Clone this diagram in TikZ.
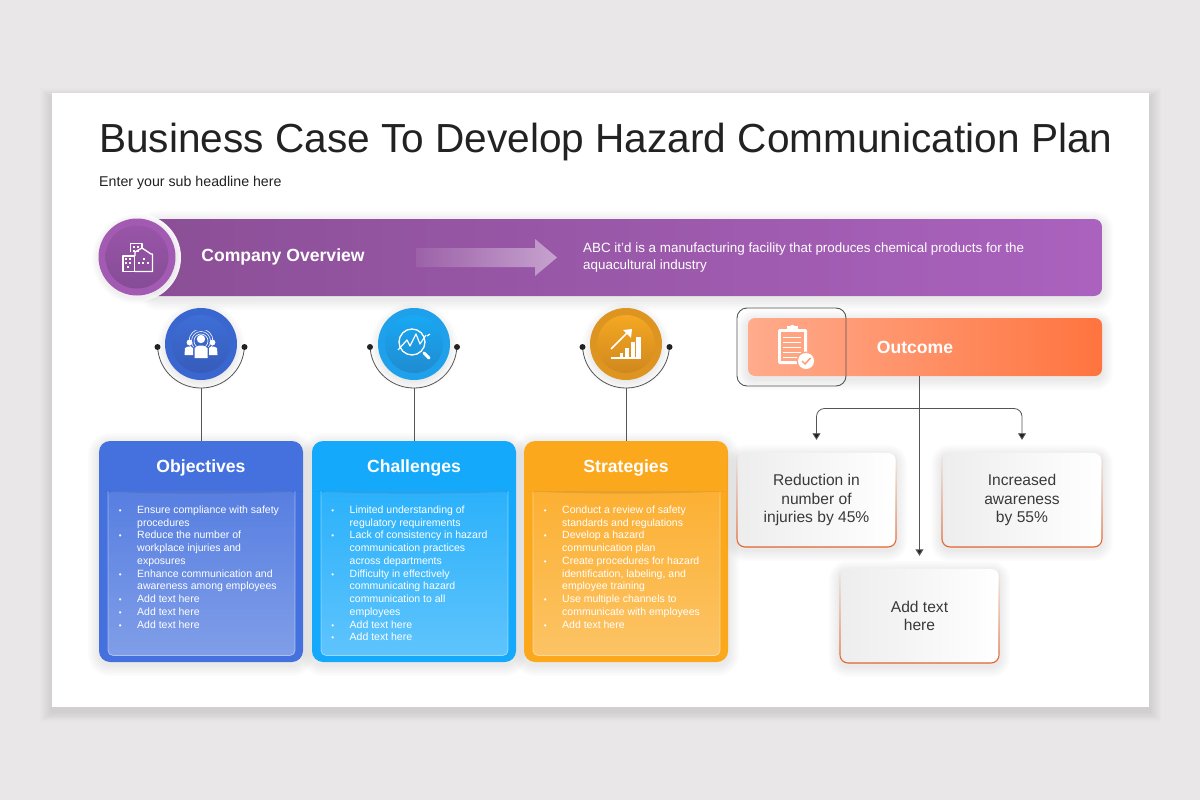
\documentclass[tikz,border=0pt]{standalone}
\usepackage{fontspec}
\setmainfont{Liberation Sans}
\usetikzlibrary{arrows.meta,fadings,calc}
\definecolor{bg}{HTML}{E9E7E8}
\definecolor{ink}{HTML}{222222}
\definecolor{txt}{HTML}{3A3A3A}
\definecolor{wire}{HTML}{555555}
\definecolor{blueA}{HTML}{4571DE}
\definecolor{skyA}{HTML}{14A9FB}
\definecolor{ambA}{HTML}{FCA81D}
\definecolor{orgL}{HTML}{FFAB8C}
\definecolor{orgR}{HTML}{FF743F}
\definecolor{orgE}{HTML}{E2622B}
\definecolor{purL}{HTML}{8B4F96}
\definecolor{purR}{HTML}{AA62BE}
\definecolor{purO}{HTML}{A25AB2}
\definecolor{purT}{HTML}{9955A8}
\definecolor{purB}{HTML}{864C96}
\definecolor{h1O}{HTML}{3A67CF}
\definecolor{h1T}{HTML}{3E6ED6}
\definecolor{h1B}{HTML}{365CBA}
\definecolor{h2O}{HTML}{1EA0EA}
\definecolor{h2T}{HTML}{18A8F4}
\definecolor{h2B}{HTML}{208CD0}
\definecolor{h3O}{HTML}{DE9420}
\definecolor{h3T}{HTML}{F4A822}
\definecolor{h3B}{HTML}{D0881E}
\definecolor{h1M}{HTML}{3A64C8}
\definecolor{clipbg}{HTML}{FFA582}
\definecolor{clipck}{HTML}{FF966E}
\tikzfading[name=panelfade,top color=transparent!90,bottom color=transparent!68]
\tikzfading[name=arrowfade,left color=transparent!92,right color=transparent!55]
\tikzfading[name=edgefade,top color=transparent!100,bottom color=transparent!0]
\newcommand{\softshadow}[5]{%
  \foreach \g in {1,...,7}{%
    \fill[black,opacity=.012,rounded corners=#5+\g*1.6pt]
      (#1-\g*1.6,#2-\g*1.6+3) rectangle (#3+\g*1.6,#4+\g*1.6+3);}}
\newcommand{\bl}[1]{\makebox[0pt][r]{\fontsize{8}{8}\selectfont •\hspace{15.5pt}}#1}
\tikzset{
  x=1pt,y=-1pt,
  title/.style={inner sep=0,anchor=west,text=ink,font=\fontsize{40.6}{44}\selectfont},
  subhead/.style={inner sep=0,anchor=west,text=ink,font=\fontsize{14.2}{16}\selectfont},
  headw/.style={inner sep=0,text=white,font=\bfseries\fontsize{17.6}{20}\selectfont},
  bodyw/.style={inner sep=0,anchor=north west,text=white,align=left,font=\fontsize{10.5}{12.75}\selectfont},
  ovw/.style={inner sep=0,anchor=west,text=white,align=left,font=\fontsize{13.4}{16.3}\selectfont},
  cardbox/.style={rectangle,rounded corners=11pt,minimum width=204pt,minimum height=221pt,inner sep=0},
  hub/.style={circle,minimum size=72pt,inner sep=0},
  hubin/.style={circle,minimum size=58pt,inner sep=0},
  dotn/.style={circle,fill=ink,minimum size=6pt,inner sep=0},
  wirel/.style={draw=wire,line width=.9pt},
  curvel/.style={draw=wire,line width=.8pt},
  arr/.style={draw=wire,line width=1pt,-{Triangle[length=6.5pt,width=8pt,fill=ink]}},
  resbox/.style={rectangle,rounded corners=8pt,minimum width=159pt,minimum height=94pt,inner sep=0,
     left color=black!7,right color=white,draw=none,align=center,text=txt,font=\fontsize{15.6}{18.4}\selectfont},
  ico/.style={draw=white,line width=1.3pt,line join=round},
}
\begin{document}
\begin{tikzpicture}
\useasboundingbox (0,0) rectangle (1200,800);
\fill[bg] (0,0) rectangle (1200,800);
% slide
\foreach \g in {1,...,8}{\fill[black,opacity=.012] (52-\g*1.5,93-\g*1.2+5) rectangle (1149+\g*1.5,707+\g*1.2+5);}
\fill[white] (52,93) rectangle (1149,707);
\node[title] (ttl) at (99,142) {Business Case To Develop Hazard Communication Plan};
\node[subhead] (sub) at (99,183) {Enter your sub headline here};
% banner
\softshadow{150}{219}{1102}{296}{8pt}
\node[rectangle,rounded corners=8pt,minimum width=952pt,minimum height=77pt,inner sep=0,
      left color=purL,right color=purR] (banner) at (626,257.5) {};
\fill[white,opacity=.97] (137,257.5) circle (44);
\foreach \g in {1,...,5}{\fill[black,opacity=.012] (137,259) circle (38.5+\g*1.3);}
\node[circle,minimum size=77pt,inner sep=0,fill=purO] (cohub) at (137,257) {};
\node[circle,minimum size=63pt,inner sep=0,top color=purT,bottom color=purB] (cohubin) at (137,257) {};
% building icon
\draw[ico] (130.5,252) -- (130.5,243.5) -- (142,243.5) -- (142,248);
\draw[ico] (123,256) -- (134.5,256) -- (134.5,271.5) -- (123,271.5) -- cycle;
\draw[ico] (135,256) -- (135,252) -- (142,248) -- (151,254) -- (152.5,254) -- (152.5,271.5) -- (135,271.5);
\foreach \p in {(134,247),(138,247),(134,251),(138,251),(126,259),(130,259),(126,263),(130,263),(128,267),(139,263),(144,259),(148,263),(143,263)}{\fill[white] \p ++(-1,-1) rectangle ++(2.2,2);}
\node[headw] (coname) at (283,257) {Company Overview};
\fill[white,path fading=arrowfade] (416,248) -- (535,248) -- (535,239) -- (557,257.5) -- (535,276) -- (535,267) -- (416,267) -- cycle;
\node[ovw] (covtxt) at (583,257.5) {ABC it'd is a manufacturing facility that produces chemical products for the\\aquacultural industry};
% hubs
\softshadow{168}{311}{234}{377}{33pt}
\softshadow{381}{311}{447}{377}{33pt}
\softshadow{593}{311}{659}{377}{33pt}
\node[hub,fill=h1O] (h1) at (201,344) {};
\node[hubin,top color=h1T,bottom color=h1B] (h1i) at (201,344) {};
\node[hub,fill=h2O] (h2) at (414,344) {};
\node[hubin,top color=h2T,bottom color=h2B] (h2i) at (414,344) {};
\node[hub,fill=h3O] (h3) at (626,344) {};
\node[hubin,top color=h3T,bottom color=h3B] (h3i) at (626,344) {};
% cradles
\node[dotn] (l1) at (157.5,347) {}; \node[dotn] (r1) at (244.5,347) {}; \coordinate (b1) at (201,388);
\node[dotn] (l2) at (370,347) {}; \node[dotn] (r2) at (457,347) {}; \coordinate (b2) at (414,388);
\node[dotn] (l3) at (582.5,347) {}; \node[dotn] (r3) at (669.5,347) {}; \coordinate (b3) at (626,388);
\foreach \n in {1,2,3}{
  \draw[curvel] (l\n) .. controls ($(l\n)+(3,25)$) and ($(b\n)+(-22,0)$) .. (b\n) .. controls ($(b\n)+(22,0)$) and ($(r\n)+(-3,25)$) .. (r\n);
}
% cards
\softshadow{99}{441}{303}{662}{11pt}
\softshadow{312}{441}{516}{662}{11pt}
\softshadow{524}{441}{728}{662}{11pt}
\node[cardbox,fill=blueA] (c1) at (201,551.5) {};
\node[cardbox,fill=skyA] (c2) at (414,551.5) {};
\node[cardbox,fill=ambA] (c3) at (626,551.5) {};
\foreach \n in {1,2,3}{\draw[wirel] (b\n) -- (c\n.north);}
\foreach \xa/\xb in {108/295,321/508,533/720}{
  \fill[black,opacity=.10] (\xa-8,491) .. controls (\xa+40,494.5) and (\xb-40,494.5) .. (\xb+8,491) -- cycle;
  \fill[white,path fading=panelfade,rounded corners=5pt] (\xa,491) -- (\xb,491) -- (\xb,655.5) -- (\xa,655.5) -- cycle;
  \draw[white,opacity=.45,line width=.8pt,rounded corners=5pt] (\xa,491) -- (\xa,655.5) -- (\xb,655.5) -- (\xb,491);
}
\node[headw] (t1) at (201,467.5) {Objectives};
\node[headw] (t2) at (414,467.5) {Challenges};
\node[headw] (t3) at (626,467.5) {Strategies};
\node[bodyw] (b1t) at (137,505.5) {\bl{Ensure compliance with safety}\\procedures\\\bl{Reduce the number of}\\workplace injuries and\\exposures\\\bl{Enhance communication and}\\awareness among employees\\\bl{Add text here}\\\bl{Add text here}\\\bl{Add text here}};
\node[bodyw] (b2t) at (349.5,505.5) {\bl{Limited understanding of}\\regulatory requirements\\\bl{Lack of consistency in hazard}\\communication practices\\across departments\\\bl{Difficulty in effectively}\\communicating hazard\\communication to all\\employees\\\bl{Add text here}\\\bl{Add text here}};
\node[bodyw] (b3t) at (562,505.5) {\bl{Conduct a review of safety}\\standards and regulations\\\bl{Develop a hazard}\\communication plan\\\bl{Create procedures for hazard}\\identification, labeling, and\\employee training\\\bl{Use multiple channels to}\\communicate with employees\\\bl{Add text here}};
% people
\begin{scope}
\clip (184,330) rectangle (219,346);
\foreach \rr in {7,9.5,12}{\draw[white,line width=.6pt] (201,341) circle (\rr);}
\end{scope}
\fill[white] (201,339) circle (4.2);
\fill[white] (194.5,358) -- (194.5,348) -- (199,345.5) -- (203,345.5) -- (207.5,348) -- (207.5,358) -- cycle;
\fill[white] (189.5,342.5) circle (2.9); \fill[white] (212.5,342.5) circle (2.9);
\fill[white] (184.5,355) -- (185,348) -- (188,346.5) -- (191,346.5) -- (193,348) -- (193,355) -- cycle;
\fill[white] (217.5,355) -- (217,348) -- (214,346.5) -- (211,346.5) -- (209,348) -- (209,355) -- cycle;
% magnifier
\draw[ico] (412,342) circle (13);
\draw[white,line width=1.2pt,line join=round] (398,350) -- (407,340) -- (410,346) -- (416,334) -- (420,344) -- (426,335);
\draw[white,line width=1.2pt] (427,336) -- (430,334);
\draw[white,line width=3pt,line cap=round] (424,353) -- (429,358);
% chart
\draw[white,line width=1.5pt] (611,349) -- (629,331);
\fill[white] (632,329) -- (631,338) -- (623,330) -- cycle;
\fill[white] (611,357) rectangle (641,358.5);
\fill[white] (619.5,353) rectangle (623,358);
\fill[white] (625,348) rectangle (629,358);
\fill[white] (630.5,342) rectangle (634.5,358);
\fill[white] (636,337) rectangle (640.5,358);
% outcome
\softshadow{748}{318}{1102}{376}{7pt}
\node[rectangle,rounded corners=7pt,minimum width=354pt,minimum height=58pt,inner sep=0,left color=orgL,right color=orgR] (outcome) at (925,347) {};
\draw[draw=wire,line width=.9pt,rounded corners=10pt] (737,308) rectangle (846,386);
\node[headw] (outt) at (915,347) {Outcome};
% clipboard
\fill[white,rounded corners=1.5pt] (778,329) rectangle (807,364);
\fill[white] (787,329) rectangle (798,326);
\fill[white] (792.5,327) circle (2.2);
\fill[clipbg] (781,332) rectangle (804,361);
\foreach \yy in {337,342,347,352,357}{\fill[white] (783,\yy) rectangle (801,\yy+1.2);}
\fill[clipbg] (806,361) circle (9.5);
\fill[white] (806,361) circle (8);
\draw[clipck,line width=1.4pt] (802,361) -- (805,364) -- (810.5,358);
% result cards
\softshadow{737}{453}{896}{547}{8pt}
\softshadow{942}{453}{1102}{547}{8pt}
\softshadow{840}{569}{999}{663}{8pt}
\node[resbox] (k1) at (816.5,500) {Reduction in\\number of\\injuries by 45\%};
\node[resbox] (k2) at (1022,500) {Increased\\awareness\\by 55\%};
\node[resbox] (k3) at (919.5,616) {Add text\\here};
\foreach \xa/\ya/\xb/\yb in {737/453/896/547,942/453/1102/547,840/569/999/663}{
  \draw[orgE,line width=1.1pt,path fading=edgefade,rounded corners=8pt] (\xa,\ya) -- (\xa,\yb) -- (\xb,\yb) -- (\xb,\ya);
}
% connectors
\coordinate (br) at (920,408.5);
\draw[wirel,line width=1.1pt,-{Triangle[length=6.5pt,width=8pt,fill=ink]},shorten >=13pt] (k3.north |- outcome.south) -- (k3.north);
\draw[arr,line width=.8pt,rounded corners=8pt,shorten >=13pt] (br) -| (k1.north);
\draw[arr,line width=.8pt,rounded corners=8pt,shorten >=13pt] (br) -| (k2.north);
\end{tikzpicture}
\end{document}
